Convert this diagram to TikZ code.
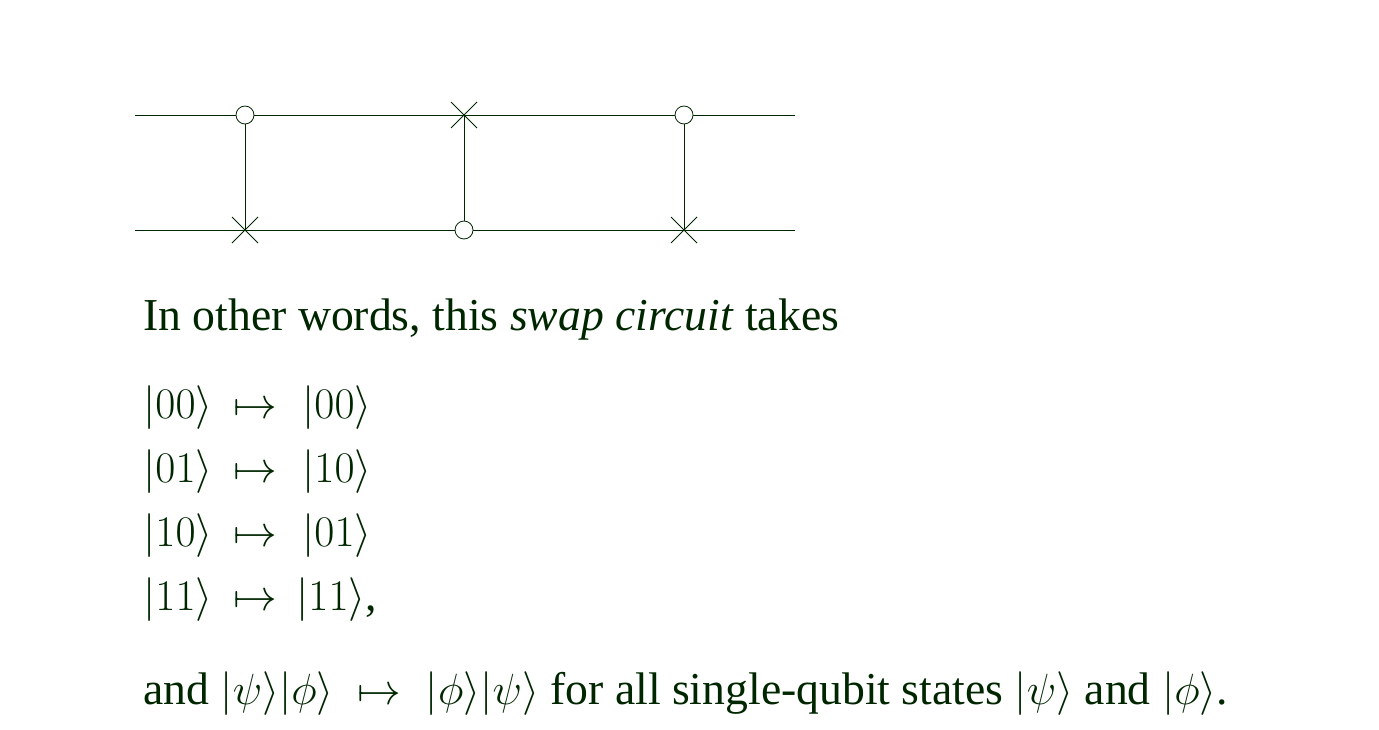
\documentclass[tikz,border=0pt]{standalone}
\usepackage{fontspec}
\setmainfont{Liberation Serif}
\begin{document}
\begin{tikzpicture}[x=0.02cm,y=-0.02cm,
  wire/.style={draw=black!85!green,line width=0.45pt},
  ctrl/.style={circle,draw=black!85!green,fill=white,inner sep=0pt,minimum size=0.36cm,line width=0.45pt},
  txt/.style={anchor=base west,inner sep=0pt,font=\fontsize{26}{30}\selectfont,text=black!85!green}]
\useasboundingbox (0,0) rectangle (1379,730);
\coordinate (a0) at (135,115); \coordinate (a1) at (795,115);
\coordinate (b0) at (135,230); \coordinate (b1) at (795,230);
\draw[wire] (a0) -- (a1);
\draw[wire] (b0) -- (b1);
\foreach \x/\t/\b [count=\i] in {245/c/x,464/x/c,684/c/x}{
  \coordinate (t\i) at (\x,115); \coordinate (u\i) at (\x,230);
  \draw[wire] (t\i) -- (u\i);
  \if\t c \node[ctrl] at (t\i) {}; \else
    \draw[wire] ([shift={(-13,-13)}]t\i) -- ([shift={(13,13)}]t\i) ([shift={(-13,13)}]t\i) -- ([shift={(13,-13)}]t\i); \fi
  \if\b c \node[ctrl] at (u\i) {}; \else
    \draw[wire] ([shift={(-13,-13)}]u\i) -- ([shift={(13,13)}]u\i) ([shift={(-13,13)}]u\i) -- ([shift={(13,-13)}]u\i); \fi
}
\node[txt] (l0) at (143,330) {In other words, this \emph{swap circuit} takes};
\node[txt] (m1) at (143,418) {$|00\rangle$}; \node[txt] (r1) at (233,418) {$\mapsto$}; \node[txt] (s1) at (302,418) {$|00\rangle$};
\node[txt] (m2) at (143,482) {$|01\rangle$}; \node[txt] (r2) at (233,482) {$\mapsto$}; \node[txt] (s2) at (302,482) {$|10\rangle$};
\node[txt] (m3) at (143,546) {$|10\rangle$}; \node[txt] (r3) at (233,546) {$\mapsto$}; \node[txt] (s3) at (302,546) {$|01\rangle$};
\node[txt] (m4) at (143,610) {$|11\rangle$}; \node[txt] (r4) at (233,610) {$\mapsto$}; \node[txt] (s4) at (296,610) {$|11\rangle$,};
\node[txt] (l5) at (143,704) {and $|\psi\rangle|\phi\rangle \;\mapsto\; |\phi\rangle|\psi\rangle$ for all single-qubit states $|\psi\rangle$ and $|\phi\rangle$.};
\end{tikzpicture}
\end{document}
